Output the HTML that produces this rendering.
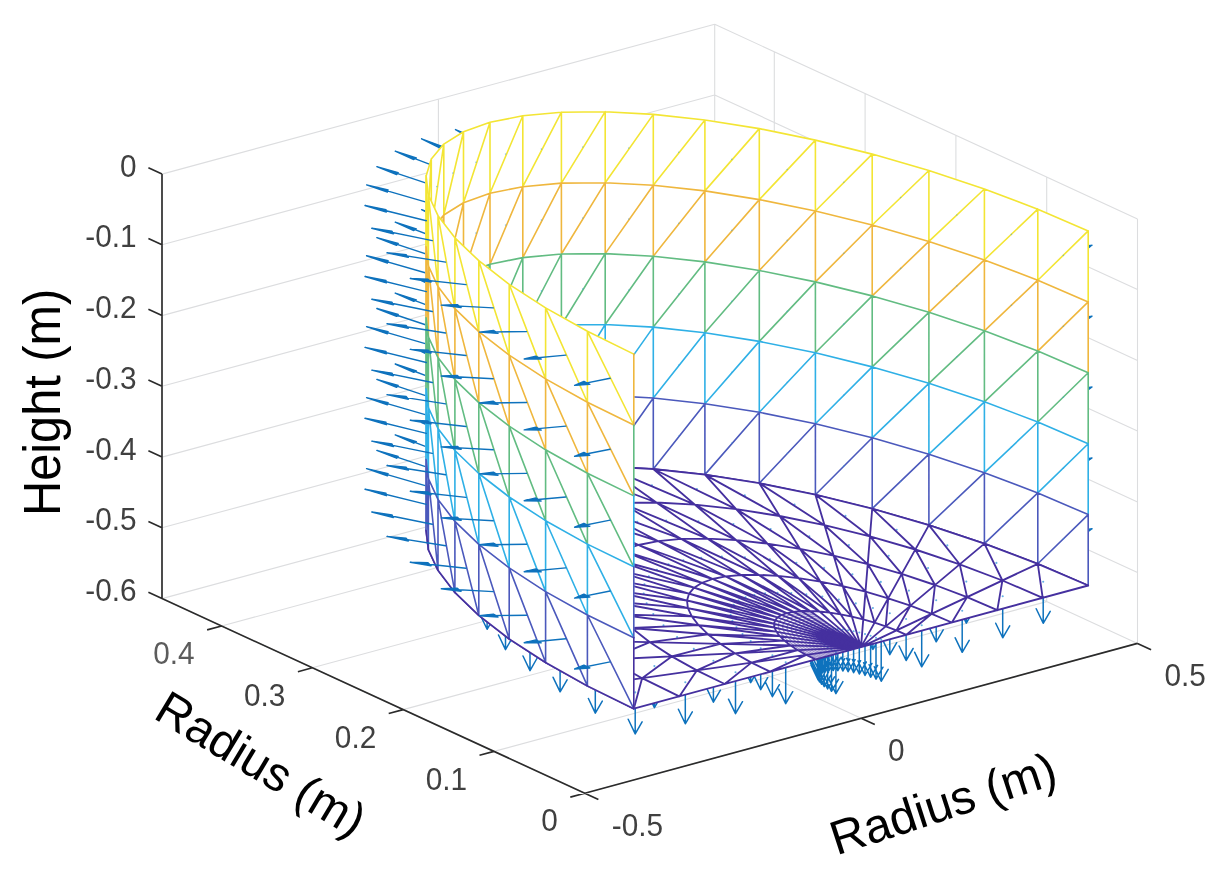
<!DOCTYPE html>
<html lang="en"><head><meta charset="utf-8"><title>Half-cylinder mesh</title>
<style>html,body{margin:0;padding:0;background:#fff;}body{width:1221px;height:871px;overflow:hidden;font-family:"Liberation Sans",Arial,sans-serif;}svg{display:block;}</style></head>
<body>
<svg width="1221" height="871" viewBox="0 0 1221 871" font-family="'Liberation Sans', Arial, Helvetica, sans-serif"><path d="M162 174.1L714.7 24.3M162 244.8L714.7 95M162 315.6L714.7 165.8M162 386.3L714.7 236.5M162 457.1L714.7 307.3M162 527.8L714.7 378M162 598.6L714.7 448.8M162 598.6L162 174.1M438.4 523.7L438.4 99.2M714.7 448.8L714.7 24.3M1137.5 218.9L714.7 24.3M1137.5 289.6L714.7 95M1137.5 360.4L714.7 165.8M1137.5 431.1L714.7 236.5M1137.5 501.9L714.7 307.3M1137.5 572.6L714.7 378M1137.5 643.4L714.7 448.8M1137.5 643.4L1137.5 218.9M1046.7 601.6L1046.7 177.1M955.9 559.8L955.9 135.3M865.1 518L865.1 93.5M774.3 476.2L774.3 51.7M584.8 793.2L162 598.6M861.1 718.3L438.4 523.7M1137.5 643.4L714.7 448.8M584.8 793.2L1137.5 643.4M494 751.4L1046.7 601.6M403.2 709.6L955.9 559.8M312.4 667.8L865.1 518M221.6 626L774.3 476.2M162 598.6L714.7 448.8" fill="none" stroke="#DCDDDF" stroke-width="1.1"/>
<path d="M1063.4 255.4L1092 245.2M1078.9 247.3L1092 245.2L1085.3 250.1ZM1063.4 326.3L1092 316.1M1078.9 318.2L1092 316.1L1085.3 321ZM1063.4 397.2L1092 387M1078.9 389.2L1092 387L1085.3 391.9ZM1063.4 468.2L1092 457.9M1078.9 460.1L1092 457.9L1085.3 462.8ZM1063.4 539.1L1092 528.8M1078.9 531L1092 528.8L1085.3 533.7ZM1011.4 234.4L1032.6 221.2M1021.9 224.4L1032.6 221.2L1028.7 227ZM1011.4 305.3L1032.6 292.1M1021.9 295.4L1032.6 292.1L1028.7 297.9ZM1011.4 376.2L1032.6 363M1021.9 366.3L1032.6 363L1028.7 368.9ZM1011.4 447.1L1032.6 433.9M1021.9 437.2L1032.6 433.9L1028.7 439.8ZM1011.4 518.1L1032.6 504.9M1021.9 508.1L1032.6 504.9L1028.7 510.7ZM956.8 215L970.4 199M962.2 203.4L970.4 199L969.2 205.7ZM956.8 285.9L970.4 269.9M962.2 274.3L970.4 269.9L969.2 276.6ZM956.8 356.8L970.4 340.9M962.2 345.2L970.4 340.9L969.2 347.5ZM956.8 427.7L970.4 411.8M962.2 416.1L970.4 411.8L969.2 418.5ZM956.8 498.6L970.4 482.7M962.2 487L970.4 482.7L969.2 489.4ZM900.6 197.5L906.2 179.1M900.7 184.4L906.2 179.1L907.9 186.5ZM900.6 268.4L906.2 250M900.7 255.3L906.2 250L907.9 257.4ZM900.6 339.3L906.2 320.9M900.7 326.2L906.2 320.9L907.9 328.3ZM900.6 410.2L906.2 391.8M900.7 397.1L906.2 391.8L907.9 399.2ZM900.6 481.2L906.2 462.8M900.7 468.1L906.2 462.8L907.9 470.1ZM843.8 182.2L841.3 161.7M838.6 167.9L841.3 161.7L845.8 169.7ZM843.8 253.2L841.3 232.6M838.6 238.8L841.3 232.6L845.8 240.6ZM843.8 324.1L841.3 303.5M838.6 309.7L841.3 303.5L845.8 311.5ZM843.8 395L841.3 374.4M838.6 380.6L841.3 374.4L845.8 382.4ZM843.8 465.9L841.3 445.4M838.6 451.6L841.3 445.4L845.8 453.3ZM787.2 169.5L776.7 147.1M776.8 154.1L776.7 147.1L783.9 155.6ZM787.2 240.4L776.7 218M776.8 225L776.7 218L783.9 226.5ZM787.2 311.3L776.7 289M776.8 295.9L776.7 289L783.9 297.4ZM787.2 382.2L776.7 359.9M776.8 366.9L776.7 359.9L783.9 368.3ZM787.2 453.2L776.7 430.8M776.8 437.8L776.7 430.8L783.9 439.2ZM731.8 159.4L713.6 135.7M716.5 143.3L713.6 135.7L723.3 144.4ZM731.8 230.4L713.6 206.6M716.5 214.2L713.6 206.6L723.3 215.3ZM731.8 301.3L713.6 277.5M716.5 285.2L713.6 277.5L723.3 286.2ZM731.8 372.2L713.6 348.4M716.5 356.1L713.6 348.4L723.3 357.2ZM731.8 443.1L713.6 419.3M716.5 427L713.6 419.3L723.3 428.1ZM678.7 152.3L653 127.5M658.6 135.7L653 127.5L665.1 136.4ZM678.7 223.2L653 198.4M658.6 206.6L653 198.4L665.1 207.3ZM678.7 294.1L653 269.3M658.6 277.5L653 269.3L665.1 278.2ZM678.7 365L653 340.2M658.6 348.4L653 340.2L665.1 349.2ZM678.7 436L653 411.2M658.6 419.4L653 411.2L665.1 420.1ZM628.7 148.1L595.9 122.7M604.2 131.3L595.9 122.7L610.3 131.7ZM628.7 219L595.9 193.7M604.2 202.3L595.9 193.7L610.3 202.6ZM628.7 290L595.9 264.6M604.2 273.2L595.9 264.6L610.3 273.5ZM628.7 360.9L595.9 335.5M604.2 344.1L595.9 335.5L610.3 344.4ZM628.7 431.8L595.9 406.4M604.2 415L595.9 406.4L610.3 415.3ZM582.7 147L543.4 121.5M554.2 130.4L543.4 121.5L559.7 130.3ZM582.7 218L543.4 192.4M554.2 201.3L543.4 192.4L559.7 201.2ZM582.7 288.9L543.4 263.4M554.2 272.2L543.4 263.4L559.7 272.1ZM582.7 359.8L543.4 334.3M554.2 343.1L543.4 334.3L559.7 343.1ZM582.7 430.7L543.4 405.2M554.2 414L543.4 405.2L559.7 414ZM541.4 149.1L496.3 123.8M509.5 132.8L496.3 123.8L514.3 132.3ZM541.4 220L496.3 194.7M509.5 203.7L496.3 194.7L514.3 203.2ZM541.4 290.9L496.3 265.7M509.5 274.6L496.3 265.7L514.3 274.1ZM541.4 361.8L496.3 336.6M509.5 345.5L496.3 336.6L514.3 345.1ZM541.4 432.7L496.3 407.5M509.5 416.4L496.3 407.5L514.3 416ZM505.6 154.1L455.5 129.6M470.7 138.5L455.5 129.6L474.9 137.7ZM505.6 225.1L455.5 200.5M470.7 209.4L455.5 200.5L474.9 208.6ZM505.6 296L455.5 271.5M470.7 280.3L455.5 271.5L474.9 279.5ZM505.6 366.9L455.5 342.4M470.7 351.3L455.5 342.4L474.9 350.4ZM505.6 437.8L455.5 413.3M470.7 422.2L455.5 413.3L474.9 421.3ZM475.9 162.2L421.6 138.8M438.7 147.5L421.6 138.8L442 146.3ZM475.9 233.1L421.6 209.7M438.7 218.4L421.6 209.7L442 217.2ZM475.9 304L421.6 280.6M438.7 289.3L421.6 280.6L442 288.1ZM475.9 375L421.6 351.6M438.7 360.2L421.6 351.6L442 359ZM475.9 445.9L421.6 422.5M438.7 431.2L421.6 422.5L442 430ZM452.8 173.1L395.2 151.2M413.8 159.5L395.2 151.2L416.3 158ZM452.8 244L395.2 222.2M413.8 230.5L395.2 222.2L416.3 228.9ZM452.8 314.9L395.2 293.1M413.8 301.4L395.2 293.1L416.3 299.8ZM452.8 385.8L395.2 364M413.8 372.3L395.2 364L416.3 370.8ZM452.8 456.8L395.2 434.9M413.8 443.2L395.2 434.9L416.3 441.7ZM436.7 186.6L376.8 166.7M396.6 174.5L376.8 166.7L398.2 172.6ZM436.7 257.5L376.8 237.6M396.6 245.4L376.8 237.6L398.2 243.5ZM436.7 328.5L376.8 308.5M396.6 316.3L376.8 308.5L398.2 314.5ZM436.7 399.4L376.8 379.4M396.6 387.3L376.8 379.4L398.2 385.4ZM436.7 470.3L376.8 450.4M396.6 458.2L376.8 450.4L398.2 456.3ZM427.8 202.6L366.6 184.9M387.4 192.1L366.6 184.9L388.1 189.9ZM427.8 273.5L366.6 255.8M387.4 263L366.6 255.8L388.1 260.8ZM427.8 344.4L366.6 326.7M387.4 333.9L366.6 326.7L388.1 331.8ZM427.8 415.3L366.6 397.7M387.4 404.8L366.6 397.7L388.1 402.7ZM427.8 486.3L366.6 468.6M387.4 475.8L366.6 468.6L388.1 473.6Z" fill="#0E72BD" stroke="#0E72BD" stroke-width="1.4" stroke-linejoin="round" stroke-linecap="round"/>
<path d="M881.2 639.8L881.2 681.3M874.3 666.8L881.2 681.3L888.2 669.3M921.7 625.3L921.7 666.8M914.7 652.3L921.7 666.8L928.7 654.8M962.2 610.8L962.2 652.3M955.2 637.8L962.2 652.3L969.2 640.3M1002.7 596.3L1002.7 637.8M995.7 623.2L1002.7 637.8L1009.7 625.8M1043.2 581.8L1043.2 623.3M1036.2 608.7L1043.2 623.3L1050.2 611.3M876 637.7L876 679.2M869.1 664.7L876 679.2L883 667.2M906.1 619L906.1 660.5M899.1 646L906.1 660.5L913.1 648.5M936.2 600.3L936.2 641.8M929.2 627.3L936.2 641.8L943.2 629.8M966.3 581.6L966.3 623.1M959.3 608.5L966.3 623.1L973.3 611.1M996.4 562.9L996.4 604.4M989.4 589.8L996.4 604.4L1003.4 592.4M870.6 635.8L870.6 677.3M863.6 662.7L870.6 677.3L877.6 665.3M889.8 613.2L889.8 654.7M882.8 640.1L889.8 654.7L896.7 642.7M908.9 590.6L908.9 632.1M901.9 617.5L908.9 632.1L915.9 620.1M928.1 568L928.1 609.5M921.1 594.9L928.1 609.5L935.1 597.5M947.3 545.4L947.3 586.9M940.3 572.3L947.3 586.9L954.2 574.9M865 634.1L865 675.5M858 661L865 675.5L871.9 663.5M872.9 608L872.9 649.4M865.9 634.9L872.9 649.4L879.9 637.4M880.8 581.9L880.8 623.4M873.8 608.8L880.8 623.4L887.8 611.3M888.7 555.8L888.7 597.3M881.8 582.7L888.7 597.3L895.7 585.2M896.7 529.7L896.7 571.2M889.7 556.6L896.7 571.2L903.7 559.2M859.3 632.5L859.3 674M852.3 659.5L859.3 674L866.3 662M855.8 603.4L855.8 644.9M848.8 630.3L855.8 644.9L862.8 632.9M852.4 574.2L852.4 615.7M845.4 601.2L852.4 615.7L859.4 603.7M848.9 545.1L848.9 586.6M841.9 572L848.9 586.6L855.9 574.6M845.5 515.9L845.5 557.4M838.5 542.9L845.5 557.4L852.5 545.4M853.6 631.3L853.6 672.7M846.6 658.2L853.6 672.7L860.6 660.7M838.8 599.6L838.8 641M831.9 626.5L838.8 641L845.8 629M824.1 567.9L824.1 609.3M817.1 594.8L824.1 609.3L831.1 597.3M809.3 536.2L809.3 577.7M802.3 563.1L809.3 577.7L816.3 565.6M794.5 504.5L794.5 546M787.6 531.4L794.5 546L801.5 533.9M848.1 630.2L848.1 671.7M841.1 657.2L848.1 671.7L855.1 659.7M822.3 596.5L822.3 638M815.3 623.5L822.3 638L829.2 626M796.4 562.8L796.4 604.3M789.4 589.8L796.4 604.3L803.4 592.3M770.6 529.1L770.6 570.6M763.6 556.1L770.6 570.6L777.6 558.6M744.8 495.4L744.8 536.9M737.8 522.4L744.8 536.9L751.7 524.9M842.8 629.5L842.8 671M835.8 656.5L842.8 671L849.8 659M806.3 594.4L806.3 635.9M799.3 621.3L806.3 635.9L813.3 623.9M769.9 559.3L769.9 600.7M762.9 586.2L769.9 600.7L776.8 588.7M733.4 524.1L733.4 565.6M726.4 551.1L733.4 565.6L740.4 553.6M696.9 489L696.9 530.5M690 515.9L696.9 530.5L703.9 518.5M837.8 629.1L837.8 670.6M830.8 656.1L837.8 670.6L844.8 658.6M791.3 593.1L791.3 634.6M784.3 620.1L791.3 634.6L798.3 622.6M744.9 557.2L744.9 598.7M737.9 584.1L744.9 598.7L751.8 586.7M698.4 521.2L698.4 562.7M691.4 548.2L698.4 562.7L705.4 550.7M651.9 485.2L651.9 526.7M645 512.2L651.9 526.7L658.9 514.7M833.2 629L833.2 670.5M826.2 656L833.2 670.5L840.2 658.5M777.5 592.8L777.5 634.3M770.5 619.8L777.5 634.3L784.5 622.3M721.8 556.6L721.8 598.1M714.9 583.6L721.8 598.1L728.8 586.1M666.2 520.5L666.2 561.9M659.2 547.4L666.2 561.9L673.2 549.9M610.5 484.3L610.5 525.8M603.5 511.2L610.5 525.8L617.5 513.8M829 629.2L829 670.7M822.1 656.2L829 670.7L836 658.7M765.1 593.4L765.1 634.9M758.1 620.4L765.1 634.9L772.1 622.9M701.2 557.7L701.2 599.1M694.2 584.6L701.2 599.1L708.2 587.1M637.3 521.9L637.3 563.4M630.3 548.8L637.3 563.4L644.3 551.4M573.4 486.1L573.4 527.6M566.4 513L573.4 527.6L580.4 515.6M825.5 629.7L825.5 671.2M818.5 656.7L825.5 671.2L832.5 659.2M754.4 595L754.4 636.4M747.4 621.9L754.4 636.4L761.4 624.4M683.3 560.2L683.3 601.7M676.3 587.1L683.3 601.7L690.3 589.7M612.2 525.4L612.2 566.9M605.3 552.4L612.2 566.9L619.2 554.9M541.2 490.7L541.2 532.2M534.2 517.6L541.2 532.2L548.2 520.1M822.5 630.5L822.5 672M815.5 657.5L822.5 672L829.5 660M745.5 597.4L745.5 638.9M738.5 624.3L745.5 638.9L752.5 626.9M668.5 564.2L668.5 605.7M661.5 591.2L668.5 605.7L675.4 593.7M591.4 531.1L591.4 572.6M584.5 558L591.4 572.6L598.4 560.5M514.4 497.9L514.4 539.4M507.4 524.9L514.4 539.4L521.4 527.4M820.2 631.6L820.2 673.1M813.2 658.6L820.2 673.1L827.2 661.1M738.5 600.6L738.5 642.1M731.6 627.6L738.5 642.1L745.5 630.1M656.9 569.7L656.9 611.2M649.9 596.6L656.9 611.2L663.9 599.1M575.3 538.7L575.3 580.2M568.3 565.6L575.3 580.2L582.2 568.2M493.6 507.7L493.6 549.2M486.6 534.7L493.6 549.2L500.6 537.2M818.6 633L818.6 674.5M811.6 659.9L818.6 674.5L825.6 662.4M733.7 604.7L733.7 646.2M726.7 631.6L733.7 646.2L740.7 634.2M648.8 576.4L648.8 617.9M641.8 603.4L648.8 617.9L655.8 605.9M564 548.2L564 589.7M557 575.1L564 589.7L570.9 577.6M479.1 519.9L479.1 561.4M472.1 546.8L479.1 561.4L486.1 549.4M817.7 634.6L817.7 676.1M810.7 661.5L817.7 676.1L824.7 664M731 609.5L731 651M724 636.4L731 651L738 639M644.4 584.4L644.4 625.9M637.4 611.4L644.4 625.9L651.4 613.9M557.7 559.3L557.7 600.8M550.8 586.3L557.7 600.8L564.7 588.8M471.1 534.3L471.1 575.8M464.1 561.2L471.1 575.8L478.1 563.7M817.5 636.4L817.5 677.9M810.5 663.3L817.5 677.9L824.5 665.9M730.6 614.9L730.6 656.4M723.6 641.9L730.6 656.4L737.6 644.4M643.7 593.5L643.7 635M636.7 620.4L643.7 635L650.6 622.9M556.7 572L556.7 613.5M549.7 599L556.7 613.5L563.7 601.5M469.8 550.6L469.8 592M462.8 577.5L469.8 592L476.8 580M818.1 638.4L818.1 679.9M811.1 665.3L818.1 679.9L825.1 667.8M732.4 620.9L732.4 662.4M725.4 647.8L732.4 662.4L739.4 650.4M646.6 603.4L646.6 644.9M639.7 630.4L646.6 644.9L653.6 632.9M560.9 586L560.9 627.5M553.9 612.9L560.9 627.5L567.9 615.4M475.2 568.5L475.2 610M468.2 595.4L475.2 610L482.1 598M819.5 640.5L819.5 682M812.5 667.5L819.5 682L826.4 670M736.4 627.3L736.4 668.8M729.4 654.3L736.4 668.8L743.4 656.8M653.3 614.1L653.3 655.6M646.3 641.1L653.3 655.6L660.3 643.6M570.2 601L570.2 642.5M563.2 627.9L570.2 642.5L577.2 630.4M487.1 587.8L487.1 629.3M480.1 614.7L487.1 629.3L494.1 617.3M821.5 642.8L821.5 684.3M814.5 669.7L821.5 684.3L828.5 672.2M742.5 634.1L742.5 675.6M735.5 661L742.5 675.6L749.5 663.6M663.5 625.4L663.5 666.9M656.5 652.4L663.5 666.9L670.5 654.9M584.5 616.8L584.5 658.2M577.5 643.7L584.5 658.2L591.5 646.2M505.5 608.1L505.5 649.6M498.5 635L505.5 649.6L512.5 637.6M824.2 645.1L824.2 686.6M817.2 672L824.2 686.6L831.2 674.6M750.7 641.1L750.7 682.6M743.7 668L750.7 682.6L757.6 670.6M677.1 637.1L677.1 678.6M670.1 664L677.1 678.6L684.1 666.6M603.5 633.1L603.5 674.6M596.5 660L603.5 674.6L610.5 662.6M530 629.1L530 670.6M523 656L530 670.6L536.9 658.5M827.6 647.5L827.6 688.9M820.6 674.4L827.6 688.9L834.5 676.9M760.7 648.2L760.7 689.7M753.7 675.1L760.7 689.7L767.7 677.7M693.8 648.9L693.8 690.4M686.8 675.8L693.8 690.4L700.8 678.4M626.9 649.6L626.9 691.1M620 676.6L626.9 691.1L633.9 679.1M560.1 650.3L560.1 691.8M553.1 677.3L560.1 691.8L567.1 679.8M831.5 649.8L831.5 691.3M824.5 676.8L831.5 691.3L838.5 679.3M772.4 655.3L772.4 696.7M765.5 682.2L772.4 696.7L779.4 684.7M713.4 660.7L713.4 702.2M706.4 687.6L713.4 702.2L720.4 690.2M654.4 666.1L654.4 707.6M647.4 693.1L654.4 707.6L661.4 695.6M595.3 671.6L595.3 713.1M588.4 698.5L595.3 713.1L602.3 701.1M835.9 652.1L835.9 693.6M828.9 679.1L835.9 693.6L842.9 681.6M785.7 662.2L785.7 703.7M778.7 689.1L785.7 703.7L792.7 691.7M735.5 672.3L735.5 713.7M728.5 699.2L735.5 713.7L742.5 701.7M685.3 682.3L685.3 723.8M678.4 709.3L685.3 723.8L692.3 711.8M635.2 692.4L635.2 733.9M628.2 719.3L635.2 733.9L642.1 721.9" fill="none" stroke="#0E72BD" stroke-width="1.5" stroke-linejoin="round" stroke-linecap="round"/>
<path d="M1088.2 230.9L1037.8 209.2L1037.8 563.8L1088.2 585.5ZM1037.8 209.2L984.4 189L984.4 543.6L1037.8 563.8ZM984.4 189L928.9 170.5L928.9 525.1L984.4 543.6ZM928.9 170.5L872.2 154.1L872.2 508.7L928.9 525.1ZM872.2 154.1L815.4 140.1L815.4 494.7L872.2 508.7ZM815.4 140.1L759.3 128.6L759.3 483.2L815.4 494.7ZM759.3 128.6L704.9 120L704.9 474.6L759.3 483.2ZM704.9 120L653.3 114.4L653.3 469L704.9 474.6ZM653.3 114.4L605.2 111.7L605.2 466.3L653.3 469ZM605.2 111.7L561.4 112.2L561.4 466.8L605.2 466.3ZM561.4 112.2L522.8 115.8L522.8 470.4L561.4 466.8ZM522.8 115.8L490 122.3L490 476.9L522.8 470.4ZM490 122.3L463.5 131.8L463.5 486.4L490 476.9ZM463.5 131.8L443.8 144.1L443.8 498.7L463.5 486.4ZM443.8 144.1L431.3 158.9L431.3 513.5L443.8 498.7ZM431.3 158.9L426.1 175.9L426.1 530.5L431.3 513.5Z" fill="#fff" stroke="#fff" stroke-width="0.6"/>
<path d="M1088.2 230.9L1088.2 301.9M1088.2 230.9L1037.8 280.2M1088.2 230.9L1037.8 209.2M1037.8 209.2L1037.8 280.2M1037.8 209.2L984.4 259.9M1037.8 209.2L984.4 189M984.4 189L984.4 259.9M984.4 189L928.9 241.4M984.4 189L928.9 170.5M928.9 170.5L928.9 241.4M928.9 170.5L872.2 225M928.9 170.5L872.2 154.1M872.2 154.1L872.2 225M872.2 154.1L815.4 211M872.2 154.1L815.4 140.1M815.4 140.1L815.4 211M815.4 140.1L759.3 199.6M815.4 140.1L759.3 128.6M759.3 128.6L759.3 199.6M759.3 128.6L704.9 190.9M759.3 128.6L704.9 120M704.9 120L704.9 190.9M704.9 120L653.3 185.3M704.9 120L653.3 114.4M653.3 114.4L653.3 185.3M653.3 114.4L605.2 182.7M653.3 114.4L605.2 111.7M605.2 111.7L605.2 182.7M605.2 111.7L561.4 183.1M605.2 111.7L561.4 112.2M561.4 112.2L561.4 183.1M561.4 112.2L522.8 186.7M561.4 112.2L522.8 115.8M522.8 115.8L522.8 186.7M522.8 115.8L490 193.3M522.8 115.8L490 122.3M490 122.3L490 193.3M490 122.3L463.5 202.8M490 122.3L463.5 131.8M463.5 131.8L463.5 202.8M463.5 131.8L443.8 215M463.5 131.8L443.8 144.1M443.8 144.1L443.8 215M443.8 144.1L431.3 229.8M443.8 144.1L431.3 158.9M431.3 158.9L431.3 229.8M431.3 158.9L426.1 246.8M426.1 175.9L426.1 246.8M431.3 158.9L426.1 175.9" fill="none" stroke="#F3E534" stroke-width="1.6" stroke-linecap="round"/>
<path d="M1088.2 301.9L1037.8 280.2M1088.2 301.9L1088.2 372.8M1088.2 301.9L1037.8 351.1M1037.8 280.2L984.4 259.9M1037.8 280.2L1037.8 351.1M1037.8 280.2L984.4 330.8M984.4 259.9L928.9 241.4M984.4 259.9L984.4 330.8M984.4 259.9L928.9 312.3M928.9 241.4L872.2 225M928.9 241.4L928.9 312.3M928.9 241.4L872.2 295.9M872.2 225L815.4 211M872.2 225L872.2 295.9M872.2 225L815.4 281.9M815.4 211L759.3 199.6M815.4 211L815.4 281.9M815.4 211L759.3 270.5M759.3 199.6L704.9 190.9M759.3 199.6L759.3 270.5M759.3 199.6L704.9 261.9M704.9 190.9L653.3 185.3M704.9 190.9L704.9 261.9M704.9 190.9L653.3 256.2M653.3 185.3L605.2 182.7M653.3 185.3L653.3 256.2M653.3 185.3L605.2 253.6M605.2 182.7L561.4 183.1M605.2 182.7L605.2 253.6M605.2 182.7L561.4 254M561.4 183.1L522.8 186.7M561.4 183.1L561.4 254M561.4 183.1L522.8 257.6M522.8 186.7L490 193.3M522.8 186.7L522.8 257.6M522.8 186.7L490 264.2M490 193.3L463.5 202.8M490 193.3L490 264.2M490 193.3L463.5 273.7M463.5 202.8L443.8 215M463.5 202.8L463.5 273.7M463.5 202.8L443.8 285.9M443.8 215L431.3 229.8M443.8 215L443.8 285.9M443.8 215L431.3 300.7M431.3 229.8L426.1 246.8M431.3 229.8L431.3 300.7M431.3 229.8L426.1 317.8M426.1 246.8L426.1 317.8" fill="none" stroke="#EFB73E" stroke-width="1.6" stroke-linecap="round"/>
<path d="M1088.2 372.8L1037.8 351.1M1088.2 372.8L1088.2 443.7M1088.2 372.8L1037.8 422M1037.8 351.1L984.4 330.8M1037.8 351.1L1037.8 422M1037.8 351.1L984.4 401.8M984.4 330.8L928.9 312.3M984.4 330.8L984.4 401.8M984.4 330.8L928.9 383.3M928.9 312.3L872.2 295.9M928.9 312.3L928.9 383.3M928.9 312.3L872.2 366.9M872.2 295.9L815.4 281.9M872.2 295.9L872.2 366.9M872.2 295.9L815.4 352.8M815.4 281.9L759.3 270.5M815.4 281.9L815.4 352.8M815.4 281.9L759.3 341.4M759.3 270.5L704.9 261.9M759.3 270.5L759.3 341.4M759.3 270.5L704.9 332.8M704.9 261.9L653.3 256.2M704.9 261.9L704.9 332.8M704.9 261.9L653.3 327.1M653.3 256.2L605.2 253.6M653.3 256.2L653.3 327.1M653.3 256.2L605.2 324.5M605.2 253.6L561.4 254M605.2 253.6L605.2 324.5M605.2 253.6L561.4 325M561.4 254L522.8 257.6M561.4 254L561.4 325M561.4 254L522.8 328.5M522.8 257.6L490 264.2M522.8 257.6L522.8 328.5M522.8 257.6L490 335.1M490 264.2L463.5 273.7M490 264.2L490 335.1M490 264.2L463.5 344.6M463.5 273.7L443.8 285.9M463.5 273.7L463.5 344.6M463.5 273.7L443.8 356.8M443.8 285.9L431.3 300.7M443.8 285.9L443.8 356.8M443.8 285.9L431.3 371.6M431.3 300.7L426.1 317.8M431.3 300.7L431.3 371.6M431.3 300.7L426.1 388.7M426.1 317.8L426.1 388.7" fill="none" stroke="#62BC82" stroke-width="1.6" stroke-linecap="round"/>
<path d="M1088.2 443.7L1037.8 422M1088.2 443.7L1088.2 514.6M1088.2 443.7L1037.8 492.9M1037.8 422L984.4 401.8M1037.8 422L1037.8 492.9M1037.8 422L984.4 472.7M984.4 401.8L928.9 383.3M984.4 401.8L984.4 472.7M984.4 401.8L928.9 454.2M928.9 383.3L872.2 366.9M928.9 383.3L928.9 454.2M928.9 383.3L872.2 437.8M872.2 366.9L815.4 352.8M872.2 366.9L872.2 437.8M872.2 366.9L815.4 423.8M815.4 352.8L759.3 341.4M815.4 352.8L815.4 423.8M815.4 352.8L759.3 412.3M759.3 341.4L704.9 332.8M759.3 341.4L759.3 412.3M759.3 341.4L704.9 403.7M704.9 332.8L653.3 327.1M704.9 332.8L704.9 403.7M704.9 332.8L653.3 398M653.3 327.1L605.2 324.5M653.3 327.1L653.3 398M653.3 327.1L605.2 395.4M605.2 324.5L561.4 325M605.2 324.5L605.2 395.4M605.2 324.5L561.4 395.9M561.4 325L522.8 328.5M561.4 325L561.4 395.9M561.4 325L522.8 399.4M522.8 328.5L490 335.1M522.8 328.5L522.8 399.4M522.8 328.5L490 406M490 335.1L463.5 344.6M490 335.1L490 406M490 335.1L463.5 415.5M463.5 344.6L443.8 356.8M463.5 344.6L463.5 415.5M463.5 344.6L443.8 427.8M443.8 356.8L431.3 371.6M443.8 356.8L443.8 427.8M443.8 356.8L431.3 442.5M431.3 371.6L426.1 388.7M431.3 371.6L431.3 442.5M431.3 371.6L426.1 459.6M426.1 388.7L426.1 459.6" fill="none" stroke="#2FB0E6" stroke-width="1.6" stroke-linecap="round"/>
<path d="M1088.2 514.6L1037.8 492.9M1088.2 514.6L1088.2 585.5M1088.2 514.6L1037.8 563.8M1037.8 492.9L984.4 472.7M1037.8 492.9L1037.8 563.8M1037.8 492.9L984.4 543.6M984.4 472.7L928.9 454.2M984.4 472.7L984.4 543.6M984.4 472.7L928.9 525.1M928.9 454.2L872.2 437.8M928.9 454.2L928.9 525.1M928.9 454.2L872.2 508.7M872.2 437.8L815.4 423.8M872.2 437.8L872.2 508.7M872.2 437.8L815.4 494.7M815.4 423.8L759.3 412.3M815.4 423.8L815.4 494.7M815.4 423.8L759.3 483.2M759.3 412.3L704.9 403.7M759.3 412.3L759.3 483.2M759.3 412.3L704.9 474.6M704.9 403.7L653.3 398M704.9 403.7L704.9 474.6M704.9 403.7L653.3 469M653.3 398L605.2 395.4M653.3 398L653.3 469M653.3 398L605.2 466.3M605.2 395.4L561.4 395.9M605.2 395.4L605.2 466.3M605.2 395.4L561.4 466.8M561.4 395.9L522.8 399.4M561.4 395.9L561.4 466.8M561.4 395.9L522.8 470.4M522.8 399.4L490 406M522.8 399.4L522.8 470.4M522.8 399.4L490 476.9M490 406L463.5 415.5M490 406L490 476.9M490 406L463.5 486.4M463.5 415.5L443.8 427.8M463.5 415.5L463.5 486.4M463.5 415.5L443.8 498.7M443.8 427.8L431.3 442.5M443.8 427.8L443.8 498.7M443.8 427.8L431.3 513.5M431.3 442.5L426.1 459.6M431.3 442.5L431.3 513.5M431.3 442.5L426.1 530.5M426.1 459.6L426.1 530.5" fill="none" stroke="#4B59BC" stroke-width="1.6" stroke-linecap="round"/>
<path d="M1088.2 585.5L1037.8 563.8M1037.8 563.8L984.4 543.6M984.4 543.6L928.9 525.1M928.9 525.1L872.2 508.7M872.2 508.7L815.4 494.7M815.4 494.7L759.3 483.2M759.3 483.2L704.9 474.6M704.9 474.6L653.3 469M653.3 469L605.2 466.3M605.2 466.3L561.4 466.8M561.4 466.8L522.8 470.4M522.8 470.4L490 476.9M490 476.9L463.5 486.4M463.5 486.4L443.8 498.7M443.8 498.7L431.3 513.5M431.3 513.5L426.1 530.5" fill="none" stroke="#45309F" stroke-width="1.6" stroke-linecap="round"/>
<path d="M1088.2 585.5L1037.8 563.8L984.4 543.6L928.9 525.1L872.2 508.7L815.4 494.7L759.3 483.2L704.9 474.6L653.3 469L605.2 466.3L561.4 466.8L522.8 470.4L490 476.9L463.5 486.4L443.8 498.7L431.3 513.5L426.1 530.5L428.4 549.6L438 570.3L454.9 592.4L478.8 615.3L509.2 638.9L545.6 662.5L587.4 685.9L633.8 708.7Z" fill="#fff" stroke="none"/>
<path d="M881.2 639.8h0.01M921.7 625.3h0.01M962.2 610.8h0.01M1002.7 596.3h0.01M1043.2 581.8h0.01M876 637.7h0.01M906.1 619h0.01M936.2 600.3h0.01M966.3 581.6h0.01M996.4 562.9h0.01M870.6 635.8h0.01M889.8 613.2h0.01M908.9 590.6h0.01M928.1 568h0.01M947.3 545.4h0.01M865 634.1h0.01M872.9 608h0.01M880.8 581.9h0.01M888.7 555.8h0.01M896.7 529.7h0.01M859.3 632.5h0.01M855.8 603.4h0.01M852.4 574.2h0.01M848.9 545.1h0.01M845.5 515.9h0.01M853.6 631.3h0.01M838.8 599.6h0.01M824.1 567.9h0.01M809.3 536.2h0.01M794.5 504.5h0.01M848.1 630.2h0.01M822.3 596.5h0.01M796.4 562.8h0.01M770.6 529.1h0.01M744.8 495.4h0.01M842.8 629.5h0.01M806.3 594.4h0.01M769.9 559.3h0.01M733.4 524.1h0.01M696.9 489h0.01M837.8 629.1h0.01M791.3 593.1h0.01M744.9 557.2h0.01M698.4 521.2h0.01M651.9 485.2h0.01M833.2 629h0.01M777.5 592.8h0.01M721.8 556.6h0.01M666.2 520.5h0.01M610.5 484.3h0.01M829 629.2h0.01M765.1 593.4h0.01M701.2 557.7h0.01M637.3 521.9h0.01M573.4 486.1h0.01M825.5 629.7h0.01M754.4 595h0.01M683.3 560.2h0.01M612.2 525.4h0.01M541.2 490.7h0.01M822.5 630.5h0.01M745.5 597.4h0.01M668.5 564.2h0.01M591.4 531.1h0.01M514.4 497.9h0.01M820.2 631.6h0.01M738.5 600.6h0.01M656.9 569.7h0.01M575.3 538.7h0.01M493.6 507.7h0.01M818.6 633h0.01M733.7 604.7h0.01M648.8 576.4h0.01M564 548.2h0.01M479.1 519.9h0.01M817.7 634.6h0.01M731 609.5h0.01M644.4 584.4h0.01M557.7 559.3h0.01M471.1 534.3h0.01M817.5 636.4h0.01M730.6 614.9h0.01M643.7 593.5h0.01M556.7 572h0.01M469.8 550.6h0.01M818.1 638.4h0.01M732.4 620.9h0.01M646.6 603.4h0.01M560.9 586h0.01M475.2 568.5h0.01M819.5 640.5h0.01M736.4 627.3h0.01M653.3 614.1h0.01M570.2 601h0.01M487.1 587.8h0.01M821.5 642.8h0.01M742.5 634.1h0.01M663.5 625.4h0.01M584.5 616.8h0.01M505.5 608.1h0.01M824.2 645.1h0.01M750.7 641.1h0.01M677.1 637.1h0.01M603.5 633.1h0.01M530 629.1h0.01M827.6 647.5h0.01M760.7 648.2h0.01M693.8 648.9h0.01M626.9 649.6h0.01M560.1 650.3h0.01M831.5 649.8h0.01M772.4 655.3h0.01M713.4 660.7h0.01M654.4 666.1h0.01M595.3 671.6h0.01M835.9 652.1h0.01M785.7 662.2h0.01M735.5 672.3h0.01M685.3 682.3h0.01M635.2 692.4h0.01" fill="none" stroke="#3C9BDC" stroke-width="2.1" stroke-linecap="round" opacity="0.8"/>
<path d="M1063.4 255.4h0.01M1063.4 326.3h0.01M1063.4 397.2h0.01M1063.4 468.2h0.01M1063.4 539.1h0.01M1011.4 234.4h0.01M1011.4 305.3h0.01M1011.4 376.2h0.01M1011.4 447.1h0.01M1011.4 518.1h0.01M956.8 215h0.01M956.8 285.9h0.01M956.8 356.8h0.01M956.8 427.7h0.01M956.8 498.6h0.01M900.6 197.5h0.01M900.6 268.4h0.01M900.6 339.3h0.01M900.6 410.2h0.01M900.6 481.2h0.01M843.8 182.2h0.01M843.8 253.2h0.01M843.8 324.1h0.01M843.8 395h0.01M843.8 465.9h0.01M787.2 169.5h0.01M787.2 240.4h0.01M787.2 311.3h0.01M787.2 382.2h0.01M787.2 453.2h0.01M731.8 159.4h0.01M731.8 230.4h0.01M731.8 301.3h0.01M731.8 372.2h0.01M731.8 443.1h0.01M678.7 152.3h0.01M678.7 223.2h0.01M678.7 294.1h0.01M678.7 365h0.01M678.7 436h0.01M628.7 148.1h0.01M628.7 219h0.01M628.7 290h0.01M628.7 360.9h0.01M628.7 431.8h0.01M582.7 147h0.01M582.7 218h0.01M582.7 288.9h0.01M582.7 359.8h0.01M582.7 430.7h0.01M541.4 149.1h0.01M541.4 220h0.01M541.4 290.9h0.01M541.4 361.8h0.01M541.4 432.7h0.01M505.6 154.1h0.01M505.6 225.1h0.01M505.6 296h0.01M505.6 366.9h0.01M505.6 437.8h0.01M475.9 162.2h0.01M475.9 233.1h0.01M475.9 304h0.01M475.9 375h0.01M475.9 445.9h0.01M452.8 173.1h0.01M452.8 244h0.01M452.8 314.9h0.01M452.8 385.8h0.01M452.8 456.8h0.01M436.7 186.6h0.01M436.7 257.5h0.01M436.7 328.5h0.01M436.7 399.4h0.01M436.7 470.3h0.01M427.8 202.6h0.01M427.8 273.5h0.01M427.8 344.4h0.01M427.8 415.3h0.01M427.8 486.3h0.01" fill="none" stroke="#3C9BDC" stroke-width="1.6" stroke-linecap="round" opacity="0.5"/>
<path d="M906.4 634.8L896.4 630.4L885.7 626.4L874.6 622.7L863.2 619.4L851.9 616.6L840.7 614.3L829.8 612.6L819.5 611.5L809.8 610.9L801.1 611L793.4 611.8L786.8 613.1L781.5 615L777.6 617.4L775.1 620.4L774 623.8L774.5 627.6L776.4 631.7L779.8 636.2L784.6 640.7L790.6 645.5L797.9 650.2L806.3 654.9L815.6 659.4M951.9 622.5L931.7 613.8L910.4 605.7L888.2 598.3L865.5 591.7L842.7 586.1L820.3 581.6L798.6 578.1L777.9 575.8L758.7 574.8L741.2 575L725.7 576.4L712.6 579L702 582.8L694.1 587.7L689.1 593.6L687 600.5L687.9 608.1L691.8 616.4L698.6 625.2L708.1 634.4L720.3 643.8L734.8 653.3L751.5 662.6L770.1 671.7M997.3 610.2L967.1 597.1L935 585L901.7 573.9L867.7 564.1L833.6 555.6L800 548.8L767.4 543.6L736.4 540.2L707.5 538.6L681.3 538.9L658.1 541.1L638.4 545L622.5 550.7L610.7 558L603.2 566.9L600.1 577.2L601.4 588.6L607.2 601L617.4 614.3L631.7 628L649.9 642.2L671.7 656.4L696.8 670.4L724.7 684M1042.7 597.8L1002.4 580.5L959.7 564.3L915.3 549.5L870 536.4L824.5 525.2L779.6 516L736.2 509.1L694.8 504.6L656.3 502.5L621.3 502.9L590.5 505.7L564.2 511L543 518.6L527.3 528.4L517.2 540.2L513.1 553.8L514.9 569.1L522.6 585.7L536.1 603.3L555.2 621.7L579.5 640.5L608.6 659.4L642.1 678.2L679.3 696.4M1088.2 585.5L1037.8 563.8L984.4 543.6L928.9 525.1L872.2 508.7L815.4 494.7L759.3 483.2L704.9 474.6L653.3 469L605.2 466.3L561.4 466.8L522.8 470.4L490 476.9L463.5 486.4L443.8 498.7L431.3 513.5L426.1 530.5L428.4 549.6L438 570.3L454.9 592.4L478.8 615.3L509.2 638.9L545.6 662.5L587.4 685.9L633.8 708.7M861 647.1L1088.2 585.5M861 647.1L1037.8 563.8M861 647.1L984.4 543.6M861 647.1L928.9 525.1M861 647.1L872.2 508.7M861 647.1L815.4 494.7M861 647.1L759.3 483.2M861 647.1L704.9 474.6M861 647.1L653.3 469M861 647.1L605.2 466.3M861 647.1L561.4 466.8M861 647.1L522.8 470.4M861 647.1L490 476.9M861 647.1L463.5 486.4M861 647.1L443.8 498.7M861 647.1L431.3 513.5M861 647.1L426.1 530.5M861 647.1L428.4 549.6M861 647.1L438 570.3M861 647.1L454.9 592.4M861 647.1L478.8 615.3M861 647.1L509.2 638.9M861 647.1L545.6 662.5M861 647.1L587.4 685.9M861 647.1L633.8 708.7M931.7 613.8L906.4 634.8M910.4 605.7L896.4 630.4M888.2 598.3L885.7 626.4M865.5 591.7L874.6 622.7M842.7 586.1L863.2 619.4M820.3 581.6L851.9 616.6M798.6 578.1L840.7 614.3M777.9 575.8L829.8 612.6M758.7 574.8L819.5 611.5M741.2 575L809.8 610.9M725.7 576.4L801.1 611M712.6 579L793.4 611.8M702 582.8L786.8 613.1M694.1 587.7L781.5 615M689.1 593.6L777.6 617.4M687 600.5L775.1 620.4M687.9 608.1L774 623.8M691.8 616.4L774.5 627.6M698.6 625.2L776.4 631.7M708.1 634.4L779.8 636.2M720.3 643.8L784.6 640.7M734.8 653.3L790.6 645.5M751.5 662.6L797.9 650.2M770.1 671.7L806.3 654.9M967.1 597.1L951.9 622.5M935 585L931.7 613.8M901.7 573.9L910.4 605.7M867.7 564.1L888.2 598.3M833.6 555.6L865.5 591.7M800 548.8L842.7 586.1M767.4 543.6L820.3 581.6M736.4 540.2L798.6 578.1M707.5 538.6L777.9 575.8M681.3 538.9L758.7 574.8M658.1 541.1L741.2 575M638.4 545L725.7 576.4M622.5 550.7L712.6 579M610.7 558L702 582.8M603.2 566.9L694.1 587.7M600.1 577.2L689.1 593.6M601.4 588.6L687 600.5M607.2 601L687.9 608.1M617.4 614.3L691.8 616.4M631.7 628L698.6 625.2M649.9 642.2L708.1 634.4M671.7 656.4L720.3 643.8M696.8 670.4L734.8 653.3M724.7 684L751.5 662.6M1002.4 580.5L997.3 610.2M959.7 564.3L967.1 597.1M915.3 549.5L935 585M870 536.4L901.7 573.9M824.5 525.2L867.7 564.1M779.6 516L833.6 555.6M736.2 509.1L800 548.8M694.8 504.6L767.4 543.6M656.3 502.5L736.4 540.2M621.3 502.9L707.5 538.6M590.5 505.7L681.3 538.9M564.2 511L658.1 541.1M543 518.6L638.4 545M527.3 528.4L622.5 550.7M517.2 540.2L610.7 558M513.1 553.8L603.2 566.9M514.9 569.1L600.1 577.2M522.6 585.7L601.4 588.6M536.1 603.3L607.2 601M555.2 621.7L617.4 614.3M579.5 640.5L631.7 628M608.6 659.4L649.9 642.2M642.1 678.2L671.7 656.4M679.3 696.4L696.8 670.4M1037.8 563.8L1042.7 597.8M984.4 543.6L1002.4 580.5M928.9 525.1L959.7 564.3M872.2 508.7L915.3 549.5M815.4 494.7L870 536.4M759.3 483.2L824.5 525.2M704.9 474.6L779.6 516M653.3 469L736.2 509.1M605.2 466.3L694.8 504.6M561.4 466.8L656.3 502.5M522.8 470.4L621.3 502.9M490 476.9L590.5 505.7M463.5 486.4L564.2 511M443.8 498.7L543 518.6M431.3 513.5L527.3 528.4M426.1 530.5L517.2 540.2M428.4 549.6L513.1 553.8M438 570.3L514.9 569.1M454.9 592.4L522.6 585.7M478.8 615.3L536.1 603.3M509.2 638.9L555.2 621.7M545.6 662.5L579.5 640.5M587.4 685.9L608.6 659.4M633.8 708.7L642.1 678.2" fill="none" stroke="#45309F" stroke-width="1.85" stroke-linecap="round" stroke-linejoin="round"/>
<path d="M853.3 641.7L852.7 641.7L852 641.7L851.4 641.7L850.9 641.8L850.3 641.9L849.9 642L849.4 642.1L849.1 642.3L848.8 642.5L848.5 642.6L848.3 642.9L848.1 643.1L848 643.3L848 643.6L848 643.9L848 644.2L848.1 644.5L848.3 644.8L848.5 645.1L848.8 645.5L849.2 645.8L849.5 646.1L850 646.5L850.4 646.9L851 647.2L851.5 647.6L852.1 647.9L852.8 648.3L853.5 648.6L854.2 648.9M850.8 639.9L849.9 639.9L849 639.9L848.2 639.9L847.5 640L846.8 640.1L846.2 640.3L845.6 640.5L845.1 640.7L844.7 640.9L844.3 641.2L844 641.4L843.8 641.8L843.7 642.1L843.6 642.4L843.6 642.8L843.7 643.2L843.9 643.6L844.1 644L844.4 644.5L844.8 644.9L845.2 645.4L845.7 645.8L846.3 646.3L846.9 646.8L847.6 647.2L848.4 647.7L849.2 648.2L850.1 648.7L851 649.1L851.9 649.6M848.2 638.1L847.1 638.1L846 638.1L845 638.2L844.1 638.3L843.2 638.4L842.4 638.6L841.7 638.8L841.1 639.1L840.6 639.4L840.1 639.7L839.8 640L839.5 640.4L839.3 640.8L839.3 641.3L839.3 641.7L839.4 642.2L839.6 642.7L839.9 643.3L840.2 643.8L840.7 644.4L841.3 644.9L841.9 645.5L842.6 646.1L843.4 646.7L844.3 647.3L845.2 647.9L846.2 648.5L847.3 649L848.5 649.6L849.6 650.2M845.6 636.3L844.3 636.2L843 636.3L841.8 636.4L840.7 636.5L839.7 636.7L838.7 636.9L837.9 637.2L837.2 637.5L836.5 637.8L836 638.2L835.5 638.6L835.2 639.1L835 639.6L834.9 640.1L834.9 640.7L835 641.2L835.3 641.9L835.6 642.5L836.1 643.1L836.6 643.8L837.3 644.5L838.1 645.2L838.9 645.9L839.9 646.6L840.9 647.3L842.1 648L843.3 648.7L844.6 649.4L845.9 650.1L847.4 650.8M843.1 634.4L841.5 634.4L840 634.5L838.6 634.6L837.3 634.7L836.1 634.9L835 635.2L834 635.5L833.2 635.9L832.4 636.3L831.8 636.7L831.3 637.2L830.9 637.7L830.7 638.3L830.6 638.9L830.6 639.6L830.7 640.3L831 641L831.4 641.7L831.9 642.5L832.6 643.3L833.4 644.1L834.2 644.9L835.3 645.7L836.4 646.5L837.6 647.4L838.9 648.2L840.3 649L841.8 649.8L843.4 650.6L845.1 651.4M840.5 632.6L838.7 632.6L837 632.7L835.4 632.8L833.9 633L832.6 633.2L831.3 633.5L830.2 633.8L829.2 634.2L828.3 634.7L827.6 635.2L827.1 635.8L826.6 636.4L826.3 637.1L826.2 637.8L826.2 638.5L826.4 639.3L826.7 640.1L827.2 641L827.8 641.8L828.5 642.7L829.4 643.6L830.4 644.6L831.6 645.5L832.9 646.4L834.3 647.4L835.8 648.3L837.4 649.3L839.1 650.2L840.9 651.1L842.8 652M838 630.8L836 630.8L834 630.9L832.2 631L830.6 631.2L829 631.5L827.6 631.8L826.3 632.2L825.2 632.6L824.3 633.2L823.5 633.7L822.8 634.4L822.3 635.1L822 635.8L821.9 636.6L821.9 637.4L822.1 638.3L822.4 639.2L822.9 640.2L823.6 641.2L824.5 642.2L825.5 643.2L826.6 644.2L827.9 645.3L829.3 646.4L830.9 647.4L832.6 648.5L834.4 649.5L836.4 650.6L838.4 651.6L840.6 652.6M835.4 629L833.2 629L831 629.1L829 629.2L827.2 629.4L825.5 629.7L823.9 630.1L822.5 630.5L821.3 631L820.2 631.6L819.3 632.3L818.6 633L818 633.7L817.7 634.6L817.5 635.4L817.5 636.4L817.7 637.3L818.1 638.4L818.7 639.4L819.5 640.5L820.4 641.6L821.5 642.8L822.8 643.9L824.2 645.1L825.8 646.3L827.6 647.5L829.5 648.6L831.5 649.8L833.6 651L835.9 652.1L838.3 653.3M832.9 627.2L830.4 627.2L828 627.3L825.8 627.4L823.8 627.7L821.9 628L820.2 628.4L818.6 628.9L817.3 629.4L816.1 630.1L815.1 630.8L814.3 631.6L813.7 632.4L813.3 633.3L813.2 634.3L813.2 635.3L813.4 636.4L813.8 637.5L814.5 638.7L815.3 639.9L816.3 641.1L817.6 642.3L819 643.6L820.5 644.9L822.3 646.2L824.2 647.5L826.3 648.8L828.5 650.1L830.9 651.4L833.4 652.6L836 653.9M830.3 625.4L827.6 625.4L825.1 625.5L822.7 625.6L820.4 625.9L818.4 626.2L816.5 626.7L814.8 627.2L813.3 627.8L812 628.5L810.9 629.3L810.1 630.1L809.4 631.1L809 632.1L808.8 633.1L808.8 634.2L809.1 635.4L809.6 636.6L810.2 637.9L811.2 639.2L812.3 640.5L813.6 641.9L815.1 643.3L816.9 644.7L818.8 646.1L820.9 647.5L823.1 649L825.6 650.4L828.2 651.8L830.9 653.1L833.7 654.5M827.7 623.6L824.8 623.6L822.1 623.7L819.5 623.8L817 624.1L814.8 624.5L812.8 625L810.9 625.6L809.3 626.2L807.9 627L806.8 627.8L805.8 628.7L805.1 629.7L804.7 630.8L804.5 631.9L804.5 633.2L804.8 634.4L805.3 635.7L806 637.1L807 638.5L808.2 640L809.7 641.5L811.3 643L813.2 644.5L815.3 646L817.5 647.6L820 649.1L822.6 650.6L825.4 652.1L828.4 653.6L831.5 655.1M825.2 621.8L822 621.8L819.1 621.9L816.3 622.1L813.7 622.4L811.2 622.8L809.1 623.3L807.1 623.9L805.4 624.6L803.9 625.4L802.6 626.3L801.6 627.3L800.8 628.4L800.3 629.5L800.1 630.8L800.1 632.1L800.4 633.4L801 634.9L801.8 636.4L802.8 637.9L804.1 639.4L805.7 641L807.5 642.7L809.5 644.3L811.7 645.9L814.2 647.6L816.8 649.3L819.7 650.9L822.7 652.5L825.9 654.1L829.2 655.7M822.6 620L819.3 620L816.1 620.1L813.1 620.3L810.3 620.6L807.7 621L805.3 621.6L803.2 622.2L801.4 623L799.8 623.9L798.4 624.8L797.3 625.9L796.5 627.1L796 628.3L795.8 629.6L795.8 631L796.1 632.5L796.7 634L797.6 635.6L798.7 637.2L800.1 638.9L801.8 640.6L803.7 642.3L805.8 644.1L808.2 645.9L810.8 647.6L813.7 649.4L816.7 651.2L820 652.9L823.4 654.6L826.9 656.3M820.1 618.2L816.5 618.2L813.1 618.3L809.9 618.5L806.9 618.8L804.1 619.3L801.6 619.9L799.4 620.6L797.4 621.4L795.7 622.3L794.3 623.4L793.1 624.5L792.2 625.7L791.7 627L791.4 628.4L791.5 629.9L791.8 631.5L792.4 633.1L793.3 634.8L794.5 636.6L796 638.3L797.8 640.2L799.8 642L802.1 643.9L804.7 645.8L807.5 647.7L810.5 649.6L813.8 651.5L817.2 653.3L820.8 655.1L824.7 657M817.5 616.4L813.7 616.3L810.1 616.5L806.7 616.7L803.5 617.1L800.6 617.6L797.9 618.2L795.5 618.9L793.4 619.8L791.6 620.8L790.1 621.9L788.9 623.1L788 624.4L787.4 625.8L787.1 627.3L787.1 628.9L787.5 630.5L788.1 632.3L789.1 634L790.4 635.9L792 637.8L793.9 639.7L796 641.7L798.5 643.7L801.2 645.7L804.2 647.7L807.4 649.7L810.8 651.7L814.5 653.7L818.3 655.7L822.4 657.6M814.9 614.6L810.9 614.5L807.1 614.6L803.5 614.9L800.1 615.3L797 615.8L794.2 616.5L791.7 617.3L789.5 618.2L787.5 619.2L785.9 620.4L784.6 621.7L783.7 623L783 624.5L782.7 626.1L782.8 627.8L783.1 629.5L783.8 631.4L784.9 633.3L786.2 635.2L787.9 637.2L789.9 639.3L792.2 641.4L794.8 643.5L797.7 645.6L800.8 647.7L804.2 649.9L807.9 652L811.7 654.1L815.8 656.2L820.1 658.2M812.4 612.8L808.1 612.7L804.1 612.8L800.3 613.1L796.7 613.5L793.5 614.1L790.5 614.8L787.8 615.6L785.5 616.6L783.4 617.7L781.7 618.9L780.4 620.2L779.4 621.7L778.7 623.3L778.4 625L778.4 626.7L778.8 628.6L779.5 630.5L780.6 632.5L782.1 634.6L783.8 636.7L786 638.9L788.4 641.1L791.1 643.3L794.1 645.5L797.5 647.8L801.1 650L804.9 652.3L809 654.5L813.3 656.7L817.8 658.8" fill="none" stroke="#45309F" stroke-width="1.3" stroke-opacity="0.5" stroke-linejoin="round"/>
<path d="M426.1 175.9L428.4 195L428.4 549.6L426.1 530.5ZM428.4 195L438 215.7L438 570.3L428.4 549.6ZM438 215.7L454.9 237.8L454.9 592.4L438 570.3ZM454.9 237.8L478.8 260.7L478.8 615.3L454.9 592.4ZM478.8 260.7L509.2 284.3L509.2 638.9L478.8 615.3ZM509.2 284.3L545.6 307.9L545.6 662.5L509.2 638.9ZM545.6 307.9L587.4 331.3L587.4 685.9L545.6 662.5ZM587.4 331.3L633.8 354.1L633.8 708.7L587.4 685.9Z" fill="#fff" stroke="#fff" stroke-width="0.6"/>
<path d="M426.1 175.9L426.1 246.8M426.1 175.9L428.4 265.9M426.1 175.9L428.4 195M428.4 195L428.4 265.9M428.4 195L438 286.6M428.4 195L438 215.7M438 215.7L438 286.6M438 215.7L454.9 308.7M438 215.7L454.9 237.8M454.9 237.8L454.9 308.7M454.9 237.8L478.8 331.7M454.9 237.8L478.8 260.7M478.8 260.7L478.8 331.7M478.8 260.7L509.2 355.2M478.8 260.7L509.2 284.3M509.2 284.3L509.2 355.2M509.2 284.3L545.6 378.9M509.2 284.3L545.6 307.9M545.6 307.9L545.6 378.9M545.6 307.9L587.4 402.3M545.6 307.9L587.4 331.3M587.4 331.3L587.4 402.3M587.4 331.3L633.8 425M587.4 331.3L633.8 354.1" fill="none" stroke="#F3E534" stroke-width="1.6" stroke-linecap="round"/>
<path d="M426.1 246.8L428.4 265.9M426.1 246.8L426.1 317.8M426.1 246.8L428.4 336.8M428.4 265.9L438 286.6M428.4 265.9L428.4 336.8M428.4 265.9L438 357.6M438 286.6L454.9 308.7M438 286.6L438 357.6M438 286.6L454.9 379.6M454.9 308.7L478.8 331.7M454.9 308.7L454.9 379.6M454.9 308.7L478.8 402.6M478.8 331.7L509.2 355.2M478.8 331.7L478.8 402.6M478.8 331.7L509.2 426.1M509.2 355.2L545.6 378.9M509.2 355.2L509.2 426.1M509.2 355.2L545.6 449.8M545.6 378.9L587.4 402.3M545.6 378.9L545.6 449.8M545.6 378.9L587.4 473.2M633.8 354.1L633.8 425M587.4 402.3L633.8 425M587.4 402.3L587.4 473.2M587.4 402.3L633.8 495.9" fill="none" stroke="#EFB73E" stroke-width="1.6" stroke-linecap="round"/>
<path d="M426.1 317.8L428.4 336.8M426.1 317.8L426.1 388.7M426.1 317.8L428.4 407.7M428.4 336.8L438 357.6M428.4 336.8L428.4 407.7M428.4 336.8L438 428.5M438 357.6L454.9 379.6M438 357.6L438 428.5M438 357.6L454.9 450.5M454.9 379.6L478.8 402.6M454.9 379.6L454.9 450.5M454.9 379.6L478.8 473.5M478.8 402.6L509.2 426.1M478.8 402.6L478.8 473.5M478.8 402.6L509.2 497M509.2 426.1L545.6 449.8M509.2 426.1L509.2 497M509.2 426.1L545.6 520.7M545.6 449.8L587.4 473.2M545.6 449.8L545.6 520.7M545.6 449.8L587.4 544.1M633.8 425L633.8 495.9M587.4 473.2L633.8 495.9M587.4 473.2L587.4 544.1M587.4 473.2L633.8 566.8" fill="none" stroke="#62BC82" stroke-width="1.6" stroke-linecap="round"/>
<path d="M426.1 388.7L428.4 407.7M426.1 388.7L426.1 459.6M426.1 388.7L428.4 478.7M428.4 407.7L438 428.5M428.4 407.7L428.4 478.7M428.4 407.7L438 499.4M438 428.5L454.9 450.5M438 428.5L438 499.4M438 428.5L454.9 521.4M454.9 450.5L478.8 473.5M454.9 450.5L454.9 521.4M454.9 450.5L478.8 544.4M478.8 473.5L509.2 497M478.8 473.5L478.8 544.4M478.8 473.5L509.2 567.9M509.2 497L545.6 520.7M509.2 497L509.2 567.9M509.2 497L545.6 591.6M545.6 520.7L587.4 544.1M545.6 520.7L545.6 591.6M545.6 520.7L587.4 615M633.8 495.9L633.8 566.8M587.4 544.1L633.8 566.8M587.4 544.1L587.4 615M587.4 544.1L633.8 637.7" fill="none" stroke="#2FB0E6" stroke-width="1.6" stroke-linecap="round"/>
<path d="M426.1 459.6L428.4 478.7M426.1 459.6L426.1 530.5M426.1 459.6L428.4 549.6M428.4 478.7L438 499.4M428.4 478.7L428.4 549.6M428.4 478.7L438 570.3M438 499.4L454.9 521.4M438 499.4L438 570.3M438 499.4L454.9 592.4M454.9 521.4L478.8 544.4M454.9 521.4L454.9 592.4M454.9 521.4L478.8 615.3M478.8 544.4L509.2 567.9M478.8 544.4L478.8 615.3M478.8 544.4L509.2 638.9M509.2 567.9L545.6 591.6M509.2 567.9L509.2 638.9M509.2 567.9L545.6 662.5M545.6 591.6L587.4 615M545.6 591.6L545.6 662.5M545.6 591.6L587.4 685.9M633.8 566.8L633.8 637.7M587.4 615L633.8 637.7M587.4 615L587.4 685.9M587.4 615L633.8 708.7" fill="none" stroke="#4B59BC" stroke-width="1.6" stroke-linecap="round"/>
<path d="M426.1 530.5L428.4 549.6M428.4 549.6L438 570.3M438 570.3L454.9 592.4M454.9 592.4L478.8 615.3M478.8 615.3L509.2 638.9M509.2 638.9L545.6 662.5M545.6 662.5L587.4 685.9M633.8 637.7L633.8 708.7M587.4 685.9L633.8 708.7" fill="none" stroke="#45309F" stroke-width="1.6" stroke-linecap="round"/>
<path d="M426.3 220.7L365 205.5M386.3 212L365 205.5L386 209.6ZM426.3 291.6L365 276.5M386.3 282.9L365 276.5L386 280.5ZM426.3 362.5L365 347.4M386.3 353.8L365 347.4L386 351.4ZM426.3 433.4L365 418.3M386.3 424.7L365 418.3L386 422.3ZM426.3 504.4L365 489.2M386.3 495.7L365 489.2L386 493.2ZM432.3 240.6L371.8 228.3M393.3 233.9L371.8 228.3L392 231.2ZM432.3 311.5L371.8 299.2M393.3 304.8L371.8 299.2L392 302.2ZM432.3 382.5L371.8 370.1M393.3 375.7L371.8 370.1L392 373.1ZM432.3 453.4L371.8 441.1M393.3 446.6L371.8 441.1L392 444ZM432.3 524.3L371.8 512M393.3 517.5L371.8 512L392 514.9ZM445.6 262.1L387 252.8M408.3 257.4L387 252.8L406.1 254.6ZM445.6 333L387 323.7M408.3 328.3L387 323.7L406.1 325.5ZM445.6 403.9L387 394.6M408.3 399.2L387 394.6L406.1 396.4ZM445.6 474.8L387 465.5M408.3 470.1L387 465.5L406.1 467.3ZM445.6 545.7L387 536.4M408.3 541L387 536.4L406.1 538.3ZM466 284.6L410.3 278.5M431 282.1L410.3 278.5L428 279.2ZM466 355.5L410.3 349.4M431 353L410.3 349.4L428 350.1ZM466 426.5L410.3 420.3M431 423.9L410.3 420.3L428 421ZM466 497.4L410.3 491.3M431 494.8L410.3 491.3L428 491.9ZM466 568.3L410.3 562.2M431 565.7L410.3 562.2L428 562.8ZM493.2 307.9L441.3 305.1M461.1 307.6L441.3 305.1L457.3 304.6ZM493.2 378.8L441.3 376M461.1 378.5L441.3 376L457.3 375.5ZM493.2 449.8L441.3 446.9M461.1 449.4L441.3 446.9L457.3 446.4ZM493.2 520.7L441.3 517.9M461.1 520.3L441.3 517.9L457.3 517.3ZM493.2 591.6L441.3 588.8M461.1 591.2L441.3 588.8L457.3 588.3ZM526.6 331.6L479.5 332.1M498 333.4L479.5 332.1L493.4 330.4ZM526.6 402.5L479.5 403M498 404.3L479.5 403L493.4 401.3ZM526.6 473.4L479.5 473.9M498 475.2L479.5 473.9L493.4 472.2ZM526.6 544.3L479.5 544.8M498 546.2L479.5 544.8L493.4 543.2ZM526.6 615.2L479.5 615.8M498 617.1L479.5 615.8L493.4 614.1ZM565.8 355.1L524.2 359M541.2 359.1L524.2 359L535.9 356.2ZM565.8 426.1L524.2 429.9M541.2 430.1L524.2 429.9L535.9 427.1ZM565.8 497L524.2 500.8M541.2 501L524.2 500.8L535.9 498ZM565.8 567.9L524.2 571.7M541.2 571.9L524.2 571.7L535.9 568.9ZM565.8 638.8L524.2 642.7M541.2 642.8L524.2 642.7L535.9 639.9ZM610.1 378.3L574.6 385.4M589.8 384.4L574.6 385.4L583.9 381.5ZM610.1 449.2L574.6 456.3M589.8 455.3L574.6 456.3L583.9 452.4ZM610.1 520.1L574.6 527.2M589.8 526.2L574.6 527.2L583.9 523.3ZM610.1 591L574.6 598.1M589.8 597.1L574.6 598.1L583.9 594.2ZM610.1 661.9L574.6 669M589.8 668L574.6 669L583.9 665.2Z" fill="#0E72BD" stroke="#0E72BD" stroke-width="1.4" stroke-linejoin="round" stroke-linecap="round"/>
<path d="M162 598.6L162 174.1M584.8 793.2L162 598.6M584.8 793.2L1137.5 643.4M162 174.1L148.4 167.8M162 244.8L148.4 238.6M162 315.6L148.4 309.3M162 386.3L148.4 380.1M162 457.1L148.4 450.8M162 527.8L148.4 521.6M162 598.6L148.4 592.3M584.8 793.2L570.3 797.1M494 751.4L479.5 755.3M403.2 709.6L388.7 713.5M312.4 667.8L297.9 671.7M221.6 626L207.1 629.9M584.8 793.2L598.4 799.5M861.1 718.3L874.8 724.6M1137.5 643.4L1151.1 649.7" fill="none" stroke="#2B2B2B" stroke-width="1.65"/>
<g font-size="31.5" fill="#404040"><text transform="translate(136.5 176.7) scale(0.945 1)" text-anchor="end">0</text><text transform="translate(136.5 247.4) scale(0.945 1)" text-anchor="end">-0.1</text><text transform="translate(136.5 318.2) scale(0.945 1)" text-anchor="end">-0.2</text><text transform="translate(136.5 388.9) scale(0.945 1)" text-anchor="end">-0.3</text><text transform="translate(136.5 459.7) scale(0.945 1)" text-anchor="end">-0.4</text><text transform="translate(136.5 530.4) scale(0.945 1)" text-anchor="end">-0.5</text><text transform="translate(136.5 601.2) scale(0.945 1)" text-anchor="end">-0.6</text><text transform="translate(557.8 831.3) scale(0.945 1)" text-anchor="end">0</text><text transform="translate(467 789.5) scale(0.945 1)" text-anchor="end">0.1</text><text transform="translate(376.2 747.7) scale(0.945 1)" text-anchor="end">0.2</text><text transform="translate(285.4 705.9) scale(0.945 1)" text-anchor="end">0.3</text><text transform="translate(194.6 664.1) scale(0.945 1)" text-anchor="end" fill-opacity="0.85">0.4</text><text transform="translate(611.8 835.8) scale(0.945 1)" text-anchor="start">-0.5</text><text transform="translate(888.1 760.9) scale(0.945 1)" text-anchor="start">0</text><text transform="translate(1164.5 686) scale(0.945 1)" text-anchor="start">0.5</text></g>
<g font-size="48" fill="#000"><text transform="translate(60 516) rotate(-90) scale(0.955 1)" font-size="51">Height (m)</text><text transform="translate(152 717.6) rotate(31)">Radius (m)</text><text transform="translate(836.5 855.6) rotate(-18)" font-size="48">Radius (m)</text></g></svg>
</body></html>
